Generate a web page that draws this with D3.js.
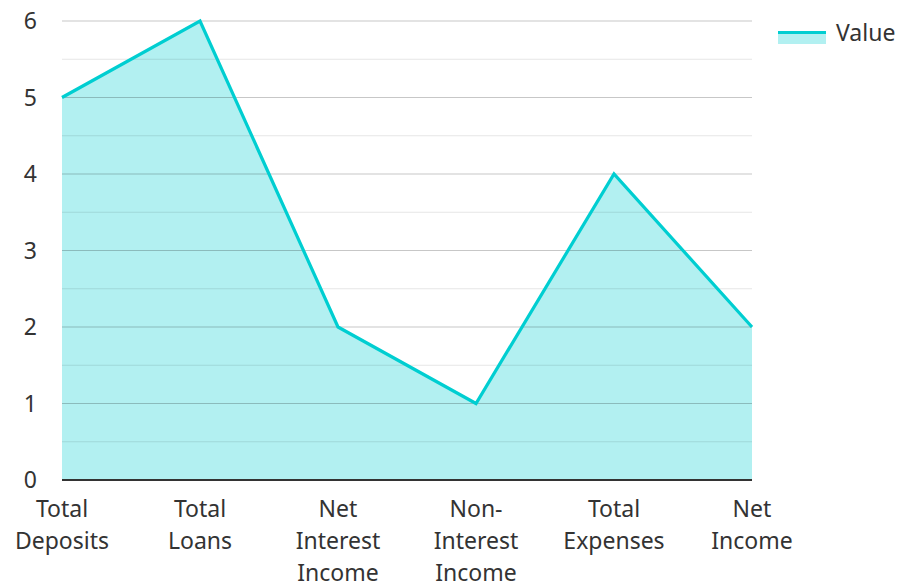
<!DOCTYPE html>
<html>
<head>
<meta charset="utf-8">
<script src="https://cdn.jsdelivr.net/npm/d3@7"></script>
<style>
  body { margin: 0; background: #fff; }
  text { font-family: "Noto Sans", "Open Sans", sans-serif; fill: #333; }
</style>
</head>
<body>
<script>
const categories = ["Total Deposits", "Total Loans", "Net Interest Income", "Non-Interest Income", "Total Expenses", "Net Income"];
const values = [5, 6, 2, 1, 4, 2];
const yTicks = [0, 1, 2, 3, 4, 5, 6];
const seriesName = "Value";

const color = "#00CED1";
const W = 899, H = 583;
const plot = {left: 62, right: 752, top: 21, bottom: 480};

const svg = d3.select("body").append("svg")
    .attr("width", W).attr("height", H);

const x = d3.scalePoint()
    .domain(categories)
    .range([plot.left, plot.right]);

const y = d3.scaleLinear()
    .domain([0, 6])
    .range([plot.bottom, plot.top]);

// area first, grid drawn on top so it shows through
const area = d3.area()
    .x((d, i) => x(categories[i]))
    .y0(y(0))
    .y1(d => y(d));

svg.append("path")
    .datum(values)
    .attr("d", area)
    .attr("fill", color)
    .attr("fill-opacity", 0.3);

// minor grid
svg.append("g")
    .selectAll("line")
    .data(d3.range(0.5, 6, 1))
    .join("line")
    .attr("x1", plot.left).attr("x2", plot.right)
    .attr("y1", d => y(d)).attr("y2", d => y(d))
    .attr("stroke", "#000").attr("stroke-opacity", 0.1)
    .attr("stroke-width", 1);

// major grid
svg.append("g")
    .selectAll("line")
    .data(yTicks.filter(d => d > 0))
    .join("line")
    .attr("x1", plot.left).attr("x2", plot.right)
    .attr("y1", d => y(d)).attr("y2", d => y(d))
    .attr("stroke", "#000").attr("stroke-opacity", 0.22)
    .attr("stroke-width", 1);

const line = d3.line()
    .x((d, i) => x(categories[i]))
    .y(d => y(d));

svg.append("path")
    .datum(values)
    .attr("d", line)
    .attr("fill", "none")
    .attr("stroke", color)
    .attr("stroke-width", 3.2)
    .attr("stroke-linejoin", "miter");

// baseline axis
svg.append("line")
    .attr("x1", plot.left).attr("x2", plot.right)
    .attr("y1", y(0)).attr("y2", y(0))
    .attr("stroke", "#333").attr("stroke-width", 2);

// y tick labels
svg.append("g")
    .selectAll("text")
    .data(yTicks)
    .join("text")
    .attr("x", 37)
    .attr("y", d => y(d))
    .attr("dy", "0.35em")
    .attr("text-anchor", "end")
    .attr("font-size", 23)
    .text(d => d);

// x labels, wrapped
function wrapLabel(s) {
    return s.replace("-", "- ").split(" ").map(w => w.trim()).filter(w => w);
}

const xl = svg.append("g")
    .selectAll("text")
    .data(categories)
    .join("text")
    .attr("x", d => x(d))
    .attr("y", 517)
    .attr("text-anchor", "middle")
    .attr("font-size", 23);

xl.selectAll("tspan")
    .data(d => wrapLabel(d).map(w => ({w, cx: x(d)})))
    .join("tspan")
    .attr("x", d => d.cx)
    .attr("dy", (d, i) => i === 0 ? 0 : 32)
    .text(d => d.w);

// legend
const lg = svg.append("g");
lg.append("rect")
    .attr("x", 778).attr("y", 33)
    .attr("width", 48).attr("height", 11)
    .attr("fill", color).attr("fill-opacity", 0.3);
lg.append("line")
    .attr("x1", 778).attr("x2", 826)
    .attr("y1", 32.5).attr("y2", 32.5)
    .attr("stroke", color).attr("stroke-width", 3);
lg.append("text")
    .attr("x", 836).attr("y", 33)
    .attr("dy", "0.35em")
    .attr("font-size", 23)
    .text(seriesName);
</script>
</body>
</html>
